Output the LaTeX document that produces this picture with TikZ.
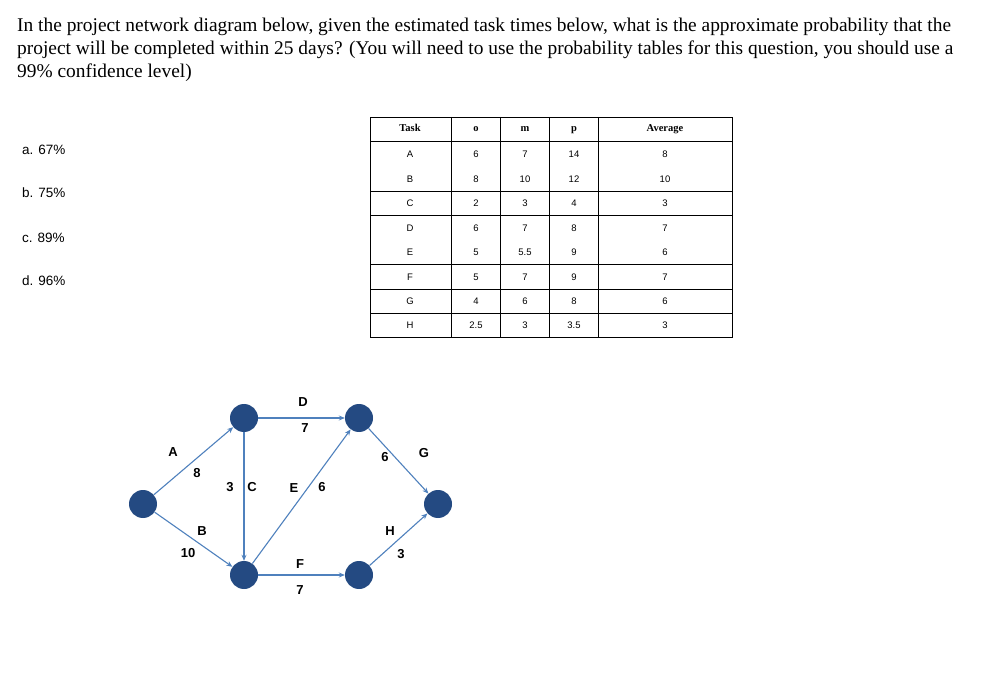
\documentclass[tikz,border=0pt]{standalone}
\usepackage{fontspec}
\usetikzlibrary{arrows.meta}
\setmainfont{Liberation Serif}
\newfontfamily\arialf{Liberation Sans}
\definecolor{nodeblue}{RGB}{36,74,130}
\definecolor{arrblue}{RGB}{79,129,189}
\begin{document}
\begin{tikzpicture}[x=1pt,y=-1pt,
 ev/.style={circle,fill=nodeblue,minimum size=28pt,inner sep=0pt},
 arr/.style={draw=arrblue,line width=1.1pt,-{Stealth[length=6pt,width=5pt]}},
 lab/.style={font=\arialf\bfseries\fontsize{13}{13}\selectfont,inner sep=0pt},
 tb/.style={font=\arialf\fontsize{9.5}{9.5}\selectfont,inner sep=0pt,text height=7pt,text depth=0pt},
 tbh/.style={font=\bfseries\fontsize{10.5}{10.5}\selectfont,inner sep=0pt,text height=8pt,text depth=2pt},
 ans/.style={font=\arialf\fontsize{13.5}{13.5}\selectfont,anchor=west,inner sep=0pt}]
\useasboundingbox (0,0) rectangle (996,684);
\fill[white] (0,0) rectangle (996,684);
\node[anchor=north west,inner sep=0pt,align=left,font=\fontsize{19.4}{23}\selectfont] (q) at (17,18)
 {In the project network diagram below, given the estimated task times below, what is the approximate probability that the\\
 project will be completed within 25 days? (You will need to use the probability tables for this question, you should use a\\
 99\% confidence level)};
\node[ans] (a1) at (22,150) {a. 67\%};
\node[ans] (a2) at (22,193) {b. 75\%};
\node[ans] (a3) at (22,238) {c. 89\%};
\node[ans] (a4) at (22,281) {d. 96\%};
% table
\draw[line width=0.8pt] (370,117) rectangle (732,337);
\foreach \x in {451,500,549,598} \draw[line width=0.8pt] (\x,117) -- (\x,337);
\foreach \y in {141,191,215,264,289,313} \draw[line width=0.8pt] (370,\y) -- (732,\y);
\foreach \t/\c in {Task/410,o/476,m/525,p/574,Average/665}
 \node[tbh] at (\c,129) {\t};
\foreach \y/\a/\b/\cc/\d/\e in {154/A/6/7/14/8,179/B/8/10/12/10,203/C/2/3/4/3,228/D/6/7/8/7,252/E/5/5.5/9/6,277/F/5/7/9/7,301/G/4/6/8/6,325/H/2.5/3/3.5/3}{
 \node[tb] at (410,\y) {\a};
 \node[tb] at (476,\y) {\b};
 \node[tb] at (525,\y) {\cc};
 \node[tb] at (574,\y) {\d};
 \node[tb] at (665,\y) {\e};}
% network
\node[ev] (n1) at (143,504) {};
\node[ev] (n2) at (244,418) {};
\node[ev] (n3) at (244,575) {};
\node[ev] (n4) at (359,418) {};
\node[ev] (n5) at (359,575) {};
\node[ev] (n6) at (438,504) {};
\draw[arr] (n1) -- (n2);
\draw[arr] (n1) -- (n3);
\draw[arr] (n2) -- (n3);
\draw[arr] (n2) -- (n4);
\draw[arr] (n3) -- (n4);
\draw[arr] (n3) -- (n5);
\draw[arr] (n4) -- (n6);
\draw[arr] (n5) -- (n6);
\foreach \x/\y/\t in {173/452/A,197/473/8,202/531/B,188/553/10,230/487/3,252/487/C,294/488/E,322/487/6,303/402/D,305/428/7,300/564/F,300/590/7,385/457/6,424/453/G,390/531/H,401/554/3}
 \node[lab] at (\x,\y) {\t};
\end{tikzpicture}
\end{document}
